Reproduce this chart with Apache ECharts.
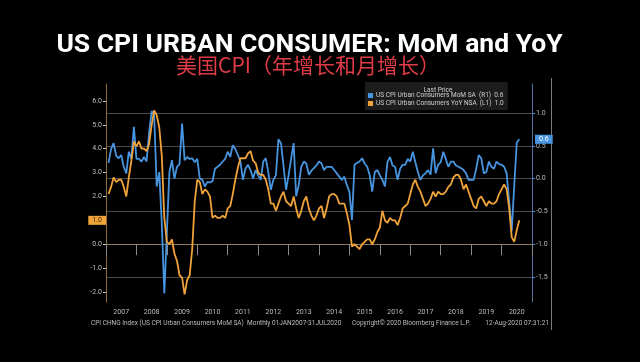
<!DOCTYPE html>
<html><head><meta charset="utf-8">
<script src="https://cdn.jsdelivr.net/npm/echarts@6/dist/echarts.min.js"></script>
<style>html,body{margin:0;padding:0;background:#000;}#c{width:640px;height:362px;}</style>
</head><body><div id="c"></div>
<script>
// Year labels on the x axis
const years = ['2007','2008','2009','2010','2011','2012','2013','2014','2015','2016','2017','2018','2019','2020'];
// US CPI Urban Consumers MoM SA (%), Jan 2007 – Jul 2020 (right axis)
const momSA = [
  0.24, 0.45, 0.54, 0.35, 0.31, 0.36, 0.18, 0.08, 0.41, 0.30, 0.79, 0.30,
  0.30, 0.26, 0.33, 0.26, 0.70, 1.03, 0.96, -0.12, 0.10, -0.68, -1.75, -0.83,
  0.10, 0.28, 0.00, 0.18, 0.22, 0.84, 0.28, 0.33, 0.30, 0.31, 0.25, 0.30,
  0.00, -0.02, -0.12, -0.05, -0.06, -0.04, 0.15, 0.18, 0.21, 0.26, 0.30, 0.41,
  0.33, 0.51, 0.45, 0.36, 0.26, -0.02, 0.15, 0.21, 0.13, 0.00, 0.13, 0.05,
  -0.02, 0.26, 0.31, 0.10, -0.17, -0.02, 0.05, 0.60, 0.54, 0.20, -0.17, 0.05,
  0.30, 0.54, -0.27, -0.10, 0.18, 0.26, 0.23, 0.06, 0.12, 0.16, 0.20, 0.26,
  0.23, 0.13, 0.18, 0.18, 0.18, 0.13, 0.08, 0.03, -0.02, 0.03, -0.10, -0.20,
  -0.63, 0.21, 0.24, 0.26, 0.31, 0.23, 0.18, 0.05, -0.20, 0.10, 0.13, 0.05,
  -0.02, -0.12, 0.25, 0.33, 0.20, 0.18, -0.02, 0.15, 0.21, 0.21, 0.30, 0.26,
  0.41, 0.25, 0.10, -0.02, 0.05, 0.08, 0.13, 0.06, 0.46, 0.08, 0.21, 0.25,
  0.41, 0.30, 0.18, 0.26, 0.26, 0.20, 0.18, 0.16, 0.13, 0.08, -0.02, -0.02,
  -0.02, 0.15, 0.36, 0.31, 0.08, 0.10, 0.26, 0.18, 0.15, 0.26, 0.22, 0.21,
  0.18, 0.08, -0.35, -0.80, -0.10, 0.55, 0.60
];
// US CPI Urban Consumers YoY NSA (%), Jan 2007 – Jul 2020 (left axis)
const yoyNSA = [
  2.1, 2.4, 2.8, 2.6, 2.7, 2.7, 2.4, 2.0, 2.8, 3.5, 4.3, 4.1,
  4.3, 4.0, 4.0, 3.9, 4.2, 5.0, 5.6, 5.4, 4.9, 3.7, 1.1, 0.1,
  0.0, 0.2, -0.4, -0.7, -1.3, -1.4, -2.1, -1.5, -1.3, -0.2, 1.8, 2.7,
  2.6, 2.1, 2.3, 2.2, 2.0, 1.1, 1.2, 1.1, 1.1, 1.2, 1.1, 1.5,
  1.6, 2.1, 2.7, 3.2, 3.6, 3.6, 3.6, 3.8, 3.9, 3.5, 3.4, 3.0,
  2.9, 2.9, 2.7, 2.3, 1.7, 1.7, 1.4, 1.7, 2.0, 2.2, 1.8, 1.7,
  1.6, 2.0, 1.5, 1.1, 1.4, 1.8, 2.0, 1.5, 1.2, 1.0, 1.2, 1.5,
  1.6, 1.1, 1.5, 2.0, 2.1, 2.1, 2.0, 1.7, 1.7, 1.7, 1.3, 0.8,
  -0.1, 0.0, -0.1, -0.2, 0.0, 0.1, 0.2, 0.2, 0.0, 0.2, 0.5, 0.7,
  1.4, 1.0, 0.9, 1.1, 1.0, 1.0, 0.8, 1.1, 1.5, 1.6, 1.7, 2.1,
  2.5, 2.7, 2.4, 2.2, 1.9, 1.6, 1.7, 1.9, 2.2, 2.0, 2.2, 2.1,
  2.1, 2.2, 2.4, 2.5, 2.8, 2.9, 2.9, 2.7, 2.3, 2.5, 2.2, 1.9,
  1.6, 1.5, 1.9, 2.0, 1.8, 1.6, 1.8, 1.7, 1.7, 1.8, 2.1, 2.3,
  2.5, 2.3, 1.5, 0.3, 0.1, 0.6, 1.0
];
const leftTicks = [-2, -1, 0, 1, 2, 3, 4, 5, 6];
const leftLabels = [-2, -1, 0, 2, 3, 4, 5, 6];
const rightTicks = [-1.5, -1, -0.5, 0, 0.5, 1];
const momName = 'US CPI Urban Consumers MoM SA';
const yoyName = 'US CPI Urban Consumers YoY NSA';
const titleText = 'US CPI URBAN CONSUMER: MoM and YoY';
const subtitleText = '美国CPI（年增长和月增长）';
const footLeft = 'CPI CHNG Index (US CPI Urban Consumers MoM SA)  Monthly 01JAN2007-31JUL2020';
const footMid = 'Copyright\u00A9 2020 Bloomberg Finance L.P.';
const footRight = '12-Aug-2020 07:31:21';

const BLUE = '#4795e0', ORANGE = '#f0a33a';
const lastMom = momSA[momSA.length - 1];
const lastYoy = yoyNSA[yoyNSA.length - 1];
const yearStarts = years.map((y, i) => i * 12).concat([years.length * 12]);
const yearMids = years.map((y, i) => i * 12 + 6);

const chart = echarts.init(document.getElementById('c'), null, {renderer: 'canvas'});
chart.setOption({
  backgroundColor: '#000',
  animation: false,
  grid: {left: 106, right: 108, top: 84, bottom: 60, containLabel: false},
  legend: {
    left: 365, top: 82, orient: 'vertical', padding: [10, 4, 3, 3], itemGap: 1,
    itemWidth: 5, itemHeight: 5, icon: 'rect', backgroundColor: '#1c1c1c',
    selectedMode: false,
    textStyle: {color: '#cfcfcf', fontSize: 6.5, fontFamily: 'Roboto', padding: [0, 0, 0, -2]},
    data: [momName, yoyName],
    formatter: n => n === momName ? n + '  (R1)  ' + lastMom.toFixed(1) : n + '  (L1)  ' + lastYoy.toFixed(1)
  },
  xAxis: {
    type: 'value', min: 0, max: years.length * 12,
    axisLine: {lineStyle: {color: '#8f7d60', width: 1}},
    axisTick: {customValues: yearStarts, length: 11, lineStyle: {color: '#8a8a8a'}},
    axisLabel: {customValues: yearMids, formatter: v => years[Math.round((v - 6) / 12)],
      color: '#bdbdbd', fontSize: 7, fontFamily: 'Roboto', margin: 7},
    splitLine: {show: false}
  },
  yAxis: [
    {
      type: 'value', position: 'left', min: -2.42, max: 6.71,
      axisLine: {show: true, lineStyle: {color: '#8f6e40'}},
      axisTick: {customValues: leftTicks, length: 3, lineStyle: {color: '#cccccc'}},
      axisLabel: {customValues: leftLabels, formatter: v => v.toFixed(1), color: '#bdbdbd',
        fontSize: 7, fontFamily: 'Roboto', margin: 4},
      splitLine: {show: false}
    },
    {
      type: 'value', position: 'right', min: -1.881, max: 1.442,
      axisLine: {show: true, lineStyle: {color: '#50709c'}},
      axisTick: {customValues: rightTicks, length: 3, lineStyle: {color: BLUE}},
      axisLabel: {customValues: rightTicks, formatter: v => v.toFixed(1), color: '#bdbdbd',
        fontSize: 7, fontFamily: 'Roboto', margin: 4},
      splitLine: {show: true, lineStyle: {color: '#4a4a4a', width: 1}}
    }
  ],
  series: [
    {
      name: momName, type: 'line', yAxisIndex: 1, showSymbol: false, symbol: 'none',
      data: momSA.map((v, i) => [i + 1, v]),
      lineStyle: {color: BLUE, width: 1.8}, itemStyle: {color: BLUE}, z: 3,
      markLine: {
        silent: true, symbol: 'none', lineStyle: {color: 'rgba(0,0,0,0)', width: 0, type: 'solid'},
        data: [{yAxis: lastMom}],
        label: {show: true, position: 'end', distance: 3, formatter: p => Number(p.value).toFixed(1),
          backgroundColor: BLUE, color: '#fff', fontSize: 7, padding: [1, 4], fontFamily: 'Roboto'}
      }
    },
    {
      name: yoyName, type: 'line', yAxisIndex: 0, showSymbol: false, symbol: 'none',
      data: yoyNSA.map((v, i) => [i + 1, v]),
      lineStyle: {color: ORANGE, width: 1.8}, itemStyle: {color: ORANGE}, z: 4,
      markLine: {
        silent: true, symbol: 'none', lineStyle: {color: 'rgba(0,0,0,0)', width: 0, type: 'solid'},
        data: [{yAxis: lastYoy}],
        label: {show: true, position: 'start', distance: 0, formatter: p => Number(p.value).toFixed(1),
          backgroundColor: ORANGE, color: '#3a2a10', fontSize: 7, padding: [1, 4], fontFamily: 'Roboto'}
      }
    }
  ],
  graphic: [
    {type: 'text', x: 309.5, y: 45.5, style: {text: titleText, fill: '#ffffff',
      font: 'bold 26.5px Roboto', textAlign: 'center', textVerticalAlign: 'middle', align: 'center', verticalAlign: 'middle'}},
    {type: 'text', x: 308, y: 65.5, style: {text: subtitleText, fill: '#e03c48',
      font: '21px "Noto Sans CJK SC"', textAlign: 'center', textVerticalAlign: 'middle', align: 'center', verticalAlign: 'middle'}},
    {type: 'text', x: 438, y: 90, z: 10, style: {text: 'Last Price', fill: '#cfcfcf',
      font: '6.5px Roboto', textAlign: 'center', textVerticalAlign: 'middle', align: 'center', verticalAlign: 'middle'}},
    {type: 'line', shape: {x1: 551.5, y1: 78, x2: 551.5, y2: 330}, style: {stroke: '#7a7a7a', lineWidth: 1}},
    {type: 'text', x: 91, y: 323, style: {text: footLeft, fill: '#bdbdbd', font: '6.5px Roboto',
      textAlign: 'left', textVerticalAlign: 'middle', align: 'left', verticalAlign: 'middle'}},
    {type: 'text', x: 352, y: 323, style: {text: footMid, fill: '#bdbdbd', font: '6.5px Roboto',
      textAlign: 'left', textVerticalAlign: 'middle', align: 'left', verticalAlign: 'middle'}},
    {type: 'text', x: 549, y: 323, style: {text: footRight, fill: '#bdbdbd', font: '6.5px Roboto',
      textAlign: 'right', textVerticalAlign: 'middle', align: 'right', verticalAlign: 'middle'}}
  ]
});
</script></body></html>
